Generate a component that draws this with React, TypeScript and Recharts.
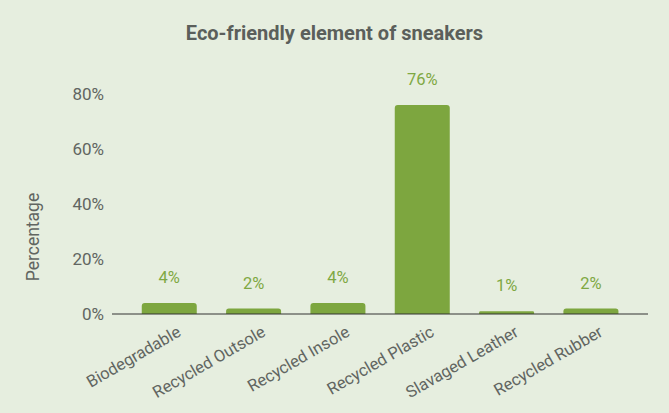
import React from "react";
import { Bar, BarChart, LabelList, XAxis, YAxis } from "recharts";

const categories = [
  "Biodegradable",
  "Recycled Outsole",
  "Recycled Insole",
  "Recycled Plastic",
  "Slavaged Leather",
  "Recycled Rubber",
];
const percentages = [4, 2, 4, 76, 1, 2];
const yTicks = [0, 20, 40, 60, 80];

const data = categories.map((name, i) => ({ name, value: percentages[i] }));

const FONT = "Roboto, 'Noto Sans', sans-serif";
const BG = "#e6eedf";
const BAR = "#7da63f";
const GREY = "#616561";

function CategoryTick({ x, y, payload }: any) {
  return (
    <g transform={`translate(${x + 10},${y + 8}) rotate(-30)`}>
      <text
        x={0}
        y={0}
        dy={6}
        textAnchor="end"
        fill={GREY}
        fontSize={16.5}
        fontFamily={FONT}
      >
        {payload.value}
      </text>
    </g>
  );
}

export default function App() {
  return (
    <div
      style={{
        position: "absolute",
        left: 0,
        top: 0,
        width: 669,
        height: 413,
        background: BG,
        fontFamily: FONT,
      }}
    >
      <div
        style={{
          position: "absolute",
          top: 21,
          left: 0,
          width: 669,
          textAlign: "center",
          fontSize: 20,
          fontWeight: 700,
          color: "#5b5f5b",
        }}
      >
        Eco-friendly element of sneakers
      </div>
      <BarChart
        width={669}
        height={413}
        data={data}
        margin={{ top: 94, right: 21, left: 0, bottom: 0 }}
        barCategoryGap="17.5%"
      >
        <XAxis
          dataKey="name"
          height={99}
          interval={0}
          padding={{ left: 15, right: 15 }}
          tickLine={false}
          axisLine={{ stroke: "#333333", strokeWidth: 1 }}
          tick={<CategoryTick />}
        />
        <YAxis
          width={112}
          domain={[0, 80]}
          ticks={yTicks}
          tickFormatter={(v) => `${v}%`}
          tickLine={false}
          axisLine={false}
          tickMargin={2}
          tick={{ fill: GREY, fontSize: 17, fontFamily: FONT }}
          label={{
            content: ({ viewBox }: any) => {
              const cx = 33;
              const cy = viewBox.y + viewBox.height / 2 + 33;
              return (
                <text
                  x={cx}
                  y={cy}
                  transform={`rotate(-90, ${cx}, ${cy})`}
                  textAnchor="middle"
                  dominantBaseline="central"
                  fill={GREY}
                  fontSize={17.5}
                  fontFamily={FONT}
                >
                  Percentage
                </text>
              );
            },
          }}
        />
        <Bar dataKey="value" fill={BAR} radius={[3, 3, 0, 0]} isAnimationActive={false}>
          <LabelList
            dataKey="value"
            position="top"
            offset={20}
            formatter={(v: any) => `${v}%`}
            fill="#7fa843"
            fontSize={16.5}
            fontFamily={FONT}
          />
        </Bar>
      </BarChart>
    </div>
  );
}
